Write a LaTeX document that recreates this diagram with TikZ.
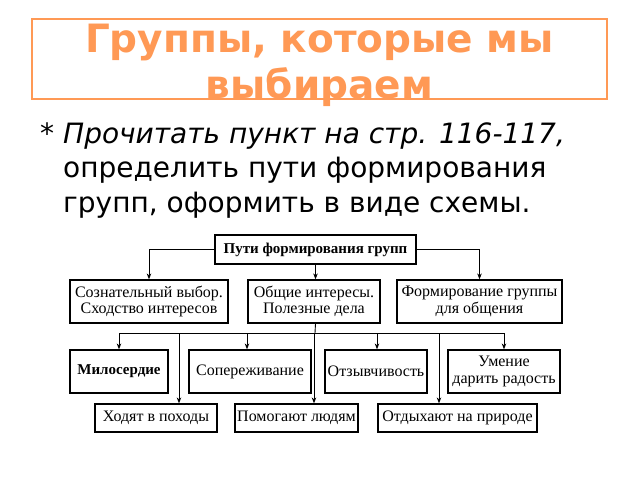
\documentclass[tikz,border=0pt]{standalone}
\usepackage{fontspec}
\setmainfont{Liberation Serif}
\newfontfamily\dejavu{DejaVu Sans}
\usetikzlibrary{arrows.meta,positioning}
\definecolor{titleorange}{RGB}{255,153,85}
\begin{document}
\begin{tikzpicture}[x=1pt,y=-1pt,
  box/.style={draw,line width=1.2pt,inner sep=0pt,align=center,
    font=\fontsize{16}{16.5}\selectfont},
  arr/.style={line width=0.9pt,-{Stealth[length=6pt,width=4.5pt]}},
  conn/.style={line width=0.9pt},
  body/.style={anchor=base west,inner sep=0pt,font=\dejavu\fontsize{28}{30}\selectfont}]
\useasboundingbox[fill=white] (0,0) rectangle (640,480);
% title
\draw[titleorange,line width=1.5pt] (32,19) rectangle (607,99);
\node[anchor=base,inner sep=0pt,text=titleorange,font=\dejavu\bfseries\fontsize{39}{46}\selectfont] (t1) at (319.5,52) {Группы, которые мы};
\node[anchor=base,inner sep=0pt,text=titleorange,font=\dejavu\bfseries\fontsize{39}{46}\selectfont] (t2) at (319.5,98) {выбираем};
% body text
\node[body] (star) at (40,143) {*};
\node[body] (l1) at (63,143) {\itshape Прочитать пункт на стр. 116-117,};
\node[body] (l2) at (63,177) {определить пути формирования};
\node[body] (l3) at (63,212) {групп, оформить в виде схемы.};
% diagram
\node[box,minimum width=201pt,minimum height=29pt,font=\bfseries\fontsize{15}{16}\selectfont] (P) at (315.5,249.5) {Пути формирования групп};
\node[box,minimum width=158pt,minimum height=43pt] (A1) at (149,301.5) {Сознательный выбор.\\Сходство интересов};
\node[box,minimum width=132pt,minimum height=43pt] (A2) at (314,301.5) {Общие интересы.\\Полезные дела};
\node[box,minimum width=165pt,minimum height=43pt] (A3) at (479.5,301.5) {Формирование группы\\для общения};
\node[box,minimum width=98pt,minimum height=43pt,font=\bfseries\fontsize{15}{16}\selectfont] (B1) at (119,371.5) {Милосердие};
\node[box,minimum width=122pt,minimum height=43pt] (B2) at (250,371.5) {Сопереживание};
\node[box,minimum width=102pt,minimum height=43pt] (B3) at (376,371.5) {Отзывчивость};
\node[box,minimum width=112pt,minimum height=43pt] (B4) at (504,371.5) {Умение\\дарить радость};
\node[box,minimum width=122pt,minimum height=28pt] (C1) at (156,418) {Ходят в походы};
\node[box,minimum width=123pt,minimum height=28pt] (C2) at (296.5,418) {Помогают людям};
\node[box,minimum width=159pt,minimum height=28pt] (C3) at (457.5,418) {Отдыхают на природе};
% connectors
\draw[arr] (P.west) -| (A1.north);
\draw[arr] (P.south) -- (P.south |- A2.north);
\draw[arr] (P.east) -| (A3.north);
\coordinate (bus) at (315,333);
\coordinate (b2) at (247,333);
\coordinate (b3) at (377,333);
\coordinate (c1) at (179,333);
\coordinate (c3) at (439,333);
\draw[conn] (B1.north |- bus) -- (B4.north |- bus);
\draw[arr] (bus -| A2.south) -- (A2.south |- C2.north);
\draw[conn] (P.south |- A2.south) -- (bus);
\draw[arr] (B1.north |- bus) -- (B1.north);
\draw[arr] (b2) -- (b2 |- B2.north);
\draw[arr] (b3) -- (b3 |- B3.north);
\draw[arr] (B4.north |- bus) -- (B4.north);
\draw[arr] (c1) -- (c1 |- C1.north);
\draw[arr] (c3) -- (c3 |- C3.north);
\end{tikzpicture}
\end{document}
